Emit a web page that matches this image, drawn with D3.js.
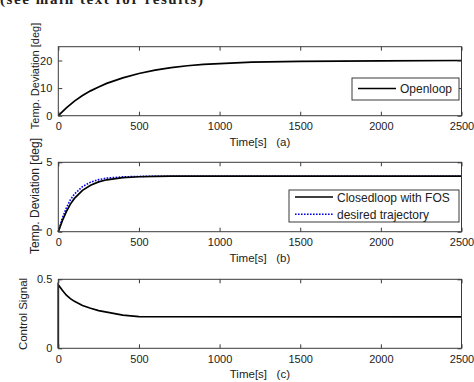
<!DOCTYPE html>
<html>
<head>
<meta charset="utf-8">
<script src="https://cdn.jsdelivr.net/npm/d3@7"></script>
<style>
  body { margin: 0; background: #fff; }
  svg { display: block; font-family: "Liberation Sans", Arial, sans-serif; }
</style>
</head>
<body>
<svg id="chart" width="474" height="382"></svg>
<script>
// three stacked MATLAB-style panels, shared time axis

const xTicks = [0, 500, 1000, 1500, 2000, 2500];

// (a) open loop
const openTime = [0, 50, 100, 150, 200, 250, 300, 400, 500, 600, 700, 800, 900, 1000, 1200, 1500, 2000, 2500];
const openVal  = [0, 2.8, 5.3, 7.3, 9.0, 10.4, 11.7, 13.7, 15.3, 16.5, 17.4, 18.1, 18.6, 18.9, 19.4, 19.7, 19.9, 20];

// (b) closed loop vs desired
const closedTime = [0, 25, 50, 75, 100, 150, 200, 250, 300, 400, 500, 600, 700, 2500];
const closedVal  = [0, 0.8, 1.45, 1.99, 2.4, 2.98, 3.35, 3.59, 3.74, 3.9, 3.96, 3.99, 4, 4];
const desiredTime = [0, 25, 50, 75, 100, 150, 200, 250, 300, 400, 500, 600, 2500];
const desiredVal  = [0, 0.97, 1.72, 2.3, 2.71, 3.25, 3.57, 3.75, 3.86, 3.95, 3.98, 4, 4];

// (c) control signal
const ctrlTime = [0, 0, 25, 50, 75, 100, 150, 200, 250, 300, 400, 500, 2500];
const ctrlVal  = [0, 0.46, 0.42, 0.385, 0.36, 0.34, 0.31, 0.29, 0.273, 0.262, 0.24, 0.229, 0.228];

const svg = d3.select('#chart');
const left = 58.3, right = 461.5;
const x = d3.scaleLinear().domain([0, 2500]).range([left, right]);
const axisColor = '#3a3a3a';
const textColor = '#222';

// cropped caption at the very top (only its lower half shows)
svg.append('text')
  .attr('x', 0).attr('y', 4)
  .attr('font-family', '"Liberation Serif", serif')
  .attr('font-weight', 700)
  .attr('font-size', 15)
  .attr('textLength', 203)
  .attr('fill', '#222')
  .text('(see main text for results)');

function zip(ts, vs) { return ts.map((t, i) => [t, vs[i]]); }

function panel(opt) {
  const y = d3.scaleLinear().domain(opt.domain).range([opt.bottom, opt.top]);
  const g = svg.append('g');

  const line = d3.line().x(d => x(d[0])).y(d => y(d[1]));
  opt.series.forEach(s => {
    g.append('path')
      .attr('d', line(s.data))
      .attr('fill', 'none')
      .attr('stroke', s.color)
      .attr('stroke-width', s.width)
      .attr('stroke-dasharray', s.dash || null);
  });

  // box
  g.append('rect')
    .attr('x', left).attr('y', opt.top)
    .attr('width', right - left).attr('height', opt.bottom - opt.top)
    .attr('fill', 'none').attr('stroke', axisColor).attr('stroke-width', 1);

  // ticks point inward on all four sides
  const xb = g.append('g').attr('transform', `translate(0,${opt.bottom})`)
    .call(d3.axisBottom(x).tickValues(xTicks).tickSizeInner(-4).tickSizeOuter(0).tickPadding(7).tickFormat(d3.format('d')));
  const xt = g.append('g').attr('transform', `translate(0,${opt.top})`)
    .call(d3.axisTop(x).tickValues(xTicks).tickSizeInner(-4).tickSizeOuter(0).tickFormat(''));
  const yl = g.append('g').attr('transform', `translate(${left},0)`)
    .call(d3.axisLeft(y).tickValues(opt.ticks).tickSizeInner(-4).tickSizeOuter(0).tickPadding(6).tickFormat(d => d));
  const yr = g.append('g').attr('transform', `translate(${right},0)`)
    .call(d3.axisRight(y).tickValues(opt.ticks).tickSizeInner(-4).tickSizeOuter(0).tickFormat(''));
  [xb, xt, yl, yr].forEach(a => {
    a.select('.domain').remove();
    a.selectAll('line').attr('stroke', axisColor);
    a.selectAll('text').attr('font-size', 11).attr('fill', textColor)
      .attr('font-family', '"Liberation Sans", Arial, sans-serif');
  });

  // x title
  g.append('text')
    .attr('x', (left + right) / 2).attr('y', opt.bottom + 30)
    .attr('text-anchor', 'middle')
    .attr('font-size', 11.5).attr('fill', textColor)
    .style('white-space', 'pre')
    .text(opt.xTitle);

  // y title
  g.append('text')
    .attr('transform', `translate(${opt.yLabelX},${opt.yLabelY}) rotate(-90)`)
    .attr('text-anchor', 'middle')
    .attr('font-size', opt.yLabelSize).attr('fill', textColor)
    .text(opt.yTitle);

  // legend
  if (opt.legend) {
    const L = opt.legend;
    g.append('rect')
      .attr('x', L.x).attr('y', L.y).attr('width', L.w).attr('height', L.h)
      .attr('fill', '#fff').attr('stroke', axisColor).attr('stroke-width', 1);
    L.items.forEach((it, i) => {
      const ly = L.y + L.first + i * L.step;
      g.append('line')
        .attr('x1', L.x + 6).attr('x2', L.x + 44).attr('y1', ly).attr('y2', ly)
        .attr('stroke', it.color).attr('stroke-width', it.width)
        .attr('stroke-dasharray', it.dash || null);
      g.append('text')
        .attr('x', L.x + 48).attr('y', ly + 4.5)
        .attr('font-size', 12).attr('fill', textColor)
        .text(it.label);
    });
  }
}

const solid = { color: '#000', width: 1.7 };
const dotted = { color: '#0000ee', width: 1.6, dash: '1.6,1.4' };

panel({
  top: 46.7, bottom: 115.7, domain: [0, 25], ticks: [0, 10, 20],
  series: [{ ...solid, data: zip(openTime, openVal) }],
  xTitle: 'Time[s]   (a)', yTitle: 'Temp. Deviation [deg]',
  yLabelX: 38.5, yLabelY: 76, yLabelSize: 11,
  legend: { x: 352, y: 78, w: 107, h: 22, first: 10.5, step: 0,
    items: [{ ...solid, label: 'Openloop' }] }
});

panel({
  top: 162.3, bottom: 231.7, domain: [0, 5], ticks: [0, 5],
  series: [
    { ...dotted, data: zip(desiredTime, desiredVal) },
    { ...solid, data: zip(closedTime, closedVal) }
  ],
  xTitle: 'Time[s]   (b)', yTitle: 'Temp. Deviation [deg]',
  yLabelX: 38.5, yLabelY: 196, yLabelSize: 12,
  legend: { x: 289, y: 190, w: 170, h: 32, first: 7, step: 17.3,
    items: [
      { ...solid, label: 'Closedloop with FOS' },
      { ...dotted, label: 'desired trajectory' }
    ] }
});

panel({
  top: 279.3, bottom: 348.3, domain: [0, 0.5], ticks: [0, 0.5],
  series: [{ ...solid, data: zip(ctrlTime, ctrlVal) }],
  xTitle: 'Time[s]   (c)', yTitle: 'Control Signal',
  yLabelX: 27, yLabelY: 314, yLabelSize: 11.5
});
</script>
</body>
</html>
